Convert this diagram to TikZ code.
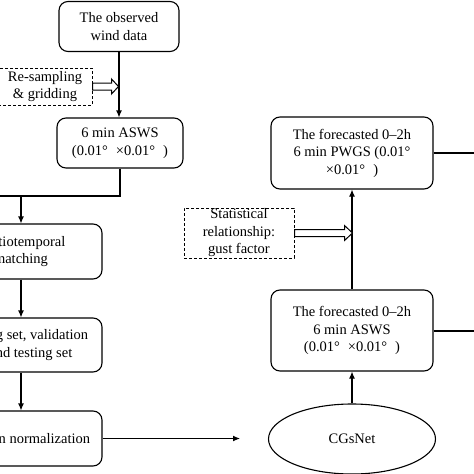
\documentclass[tikz,border=0pt]{standalone}
\usepackage{fontspec}
\setmainfont{Liberation Serif}
\usetikzlibrary{shapes.geometric,arrows.meta}
\tikzset{
  txt/.style={font=\fontsize{14.5}{17.5}\selectfont, align=center, inner sep=0pt},
  box/.style={txt, draw, rounded corners=9pt, line width=1.1pt},
  dbox/.style={txt, draw, line width=1pt, dash pattern=on 3pt off 2pt},
  oval/.style={txt, draw, ellipse, line width=1.1pt},
  conn/.style={line width=1.1pt},
  arr/.style={conn, -{Latex[length=7pt,width=6pt]}},
  hollow/.style={line width=1pt, fill=white, line join=miter}
}
\newcommand{\dg}{°\hspace{0.55em}}
\begin{document}
\begin{tikzpicture}[x=1pt, y=-1pt]
\useasboundingbox (0,0) rectangle (474,474);
\clip (0,0) rectangle (474,474);
\fill[white] (0,0) rectangle (474,474);

% left column
\node[box, minimum width=120, minimum height=50] (obs) at (119,26.5) {The observed\\wind data};
\node[dbox, minimum width=94, minimum height=37] (resamp) at (45,86.5) {Re-sampling\\\& gridding};
\node[box, minimum width=126, minimum height=50] (asws) at (120,143) {6 min ASWS\\(0.01\dg×0.01\dg)};
\node[box, minimum width=162, minimum height=55] (match) at (21,251.5) {Spatiotemporal\\matching};
\node[box, minimum width=162, minimum height=54] (train) at (21,345) {Training set, validation\\set and testing set};
\node[box, minimum width=162, minimum height=55] (norm) at (21,438.5) {Max-min normalization};

% right column
\node[box, minimum width=162, minimum height=72] (pwgs) at (352,153) {The forecasted 0–2h\\6 min PWGS (0.01\dg\\×0.01\dg)};
\node[dbox, minimum width=110, minimum height=50] (stat) at (239,233) {Statistical\\relationship:\\gust factor};
\node[box, minimum width=162, minimum height=81] (fasws) at (352,330.5) {The forecasted 0–2h\\6 min ASWS\\(0.01\dg×0.01\dg)};
\node[oval, minimum width=167, minimum height=70] (cgs) at (352,439) {CGsNet};

% free ends
\coordinate (jn) at (21,196);
\coordinate (lend) at (-10,196);
\coordinate (nend) at (240,438.5);
\coordinate (r1) at (480,153);
\coordinate (r2) at (480,331);

% connectors
\draw[arr] (obs.south) -- (obs.south |- asws.north);
\draw[conn] (asws.south) |- (lend);
\draw[arr] (jn) -- (match.north);
\draw[arr] (match.south) -- (train.north);
\draw[arr] (train.south) -- (norm.north);
\draw[arr] (norm.east) -- (nend);
\draw[arr] (cgs.north) -- (fasws.south);
\draw[arr] (fasws.north) -- (pwgs.south);
\draw[conn] (pwgs.east) -- (r1);
\draw[conn] (fasws.east |- r2) -- (r2);

% hollow arrows
\draw[hollow] (resamp.east) ++(0,-3.5) -- ++(19,0) -- ++(0,-4) -- ++(7,7.5) -- ++(-7,7.5) -- ++(0,-4) -- ++(-19,0) -- cycle;
\draw[hollow] (stat.east) ++(0,-3.5) -- ++(50,0) -- ++(0,-4) -- ++(8,7.5) -- ++(-8,7.5) -- ++(0,-4) -- ++(-50,0) -- cycle;
\end{tikzpicture}
\end{document}
